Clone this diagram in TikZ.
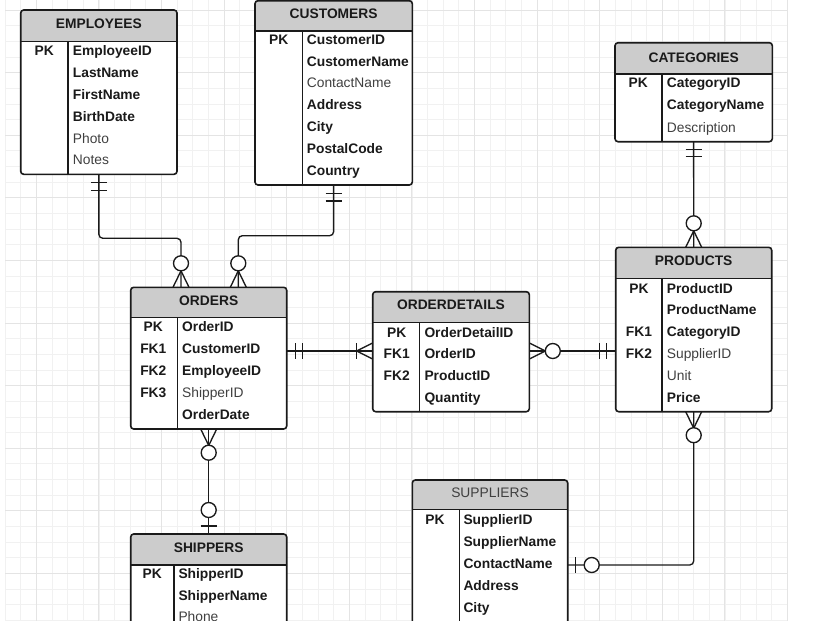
\documentclass[tikz,border=0pt]{standalone}
\usepackage{fontspec}
\setmainfont{Liberation Sans}
\usetikzlibrary{calc}
\definecolor{hdr}{HTML}{CCCCCC}
\definecolor{gridminor}{HTML}{F1F1F1}
\definecolor{gridmajor}{HTML}{E4E4E4}
\definecolor{ink}{HTML}{1A1A1A}
\definecolor{soft}{HTML}{404040}
\tikzset{
  box/.style={draw=ink, line width=1.6pt, rounded corners=3pt, inner sep=0pt, outer sep=0pt, anchor=north west},
  sepline/.style={draw=ink, line width=1.6pt},
  tt/.style={font=\fontsize{13.8}{16}\selectfont\bfseries, text=ink, inner sep=0pt, text height=9.9pt, text depth=0pt},
  keyt/.style={tt},
  fld/.style={tt, anchor=west},
  fldr/.style={fld, font=\fontsize{13.8}{16}\selectfont, text=soft},
  conn/.style={draw=ink, line width=1.35pt},
  ring/.style={draw=ink, line width=1.35pt, fill=white},
}
\newcommand\erbox[7]{%
  \begin{scope}
    \clip[rounded corners=3pt] (#2,#3) rectangle (#4,#6);
    \fill[white] (#2,#3) rectangle (#4,#6);
    \fill[hdr] (#2,#3) rectangle (#4,#5);
  \end{scope}
  \draw[sepline] (#2,#5) -- (#4,#5) (#7,#5) -- (#7,#6);
  \node[box, minimum width={#4-#2}, minimum height={#6-#3}] (#1) at (#2,#3) {};
}
\begin{document}
\begin{tikzpicture}[x=1pt,y=-1pt]
\useasboundingbox (0,0) rectangle (814,621);
\clip (0,0) rectangle (814,621);
% grid
\foreach \i in {0,...,50} {\draw[gridminor, line width=0.8pt] ({5+15.65*\i},0) -- ({5+15.65*\i},621);}
\foreach \j in {0,...,39} {\draw[gridminor, line width=0.8pt] (5,{10+15.65*\j}) -- (787.5,{10+15.65*\j});}
\foreach \i in {2,6,...,50} {\draw[gridmajor, line width=0.9pt] ({5+15.65*\i},0) -- ({5+15.65*\i},621);}
\foreach \j in {0,4,...,36} {\draw[gridmajor, line width=0.9pt] (5,{10+15.65*\j}) -- (787.5,{10+15.65*\j});}

% ===== EMPLOYEES
\erbox{emp}{20.7}{10}{177}{41.3}{174.3}{68}
\node[tt] (empT) at (98.85,23.3) {EMPLOYEES};
\node[keyt] (empK1) at (44.3,51) {PK};
\node[fld] (empF1) at (72.7,51) {EmployeeID};
\node[fld] (empF2) at (72.7,72.7) {LastName};
\node[fld] (empF3) at (72.7,94.7) {FirstName};
\node[fld] (empF4) at (72.7,116.7) {BirthDate};
\node[fldr] (empF5) at (72.7,138.3) {Photo};
\node[fldr] (empF6) at (72.7,160) {Notes};

% ===== CUSTOMERS
\erbox{cust}{255}{0.7}{412.3}{30.7}{185}{302.3}
\node[tt] (custT) at (333.65,13.3) {CUSTOMERS};
\node[keyt] (custK1) at (278.7,39.3) {PK};
\node[fld] (custF1) at (306.7,39.3) {CustomerID};
\node[fld] (custF2) at (306.7,61.3) {CustomerName};
\node[fldr] (custF3) at (306.7,83) {ContactName};
\node[fld] (custF4) at (306.7,105) {Address};
\node[fld] (custF5) at (306.7,127) {City};
\node[fld] (custF6) at (306.7,148.7) {PostalCode};
\node[fld] (custF7) at (306.7,170.7) {Country};

% ===== CATEGORIES
\erbox{cat}{615}{42.7}{772.3}{73.7}{141.7}{662}
\node[tt] (catT) at (693.65,57.3) {CATEGORIES};
\node[keyt] (catK1) at (638.3,82.7) {PK};
\node[fld] (catF1) at (666.7,82.7) {CategoryID};
\node[fld] (catF2) at (666.7,105) {CategoryName};
\node[fldr] (catF3) at (666.7,127.3) {Description};

% ===== ORDERS
\erbox{ord}{130.7}{287.3}{286.7}{317.3}{429}{177.3}
\node[tt] (ordT) at (208.7,300.7) {ORDERS};
\node[keyt] (ordK1) at (153.3,326.7) {PK};
\node[keyt] (ordK2) at (153.3,348.7) {FK1};
\node[keyt] (ordK3) at (153.3,370.7) {FK2};
\node[keyt] (ordK4) at (153.3,392.3) {FK3};
\node[fld] (ordF1) at (182,326.7) {OrderID};
\node[fld] (ordF2) at (182,348.7) {CustomerID};
\node[fld] (ordF3) at (182,370.7) {EmployeeID};
\node[fldr] (ordF4) at (182,392.3) {ShipperID};
\node[fld] (ordF5) at (182,414.3) {OrderDate};

% ===== ORDERDETAILS
\erbox{od}{372.7}{291.7}{529.3}{322.3}{411.7}{419.3}
\node[tt] (odT) at (451,305) {ORDERDETAILS};
\node[keyt] (odK1) at (396.7,332.3) {PK};
\node[keyt] (odK2) at (396.7,354) {FK1};
\node[keyt] (odK3) at (396.7,376) {FK2};
\node[fld] (odF1) at (424.3,332.3) {OrderDetailID};
\node[fld] (odF2) at (424.3,354) {OrderID};
\node[fld] (odF3) at (424.3,376) {ProductID};
\node[fld] (odF4) at (424.3,397.7) {Quantity};

% ===== PRODUCTS
\erbox{prod}{615.7}{247.3}{771.7}{278.3}{411.7}{662}
\node[tt] (prodT) at (693.7,261) {PRODUCTS};
\node[keyt] (prodK1) at (639,288.3) {PK};
\node[keyt] (prodK2) at (639,332) {FK1};
\node[keyt] (prodK3) at (639,354) {FK2};
\node[fld] (prodF1) at (666.7,288.3) {ProductID};
\node[fld] (prodF2) at (666.7,310) {ProductName};
\node[fld] (prodF3) at (666.7,332) {CategoryID};
\node[fldr] (prodF4) at (666.7,354) {SupplierID};
\node[fldr] (prodF5) at (666.7,376) {Unit};
\node[fld] (prodF6) at (666.7,397.3) {Price};

% ===== SUPPLIERS
\erbox{sup}{412.3}{480}{567.7}{509.3}{660}{459.3}
\node[tt, font=\fontsize{13.8}{16}\selectfont, text=soft] (supT) at (490,492.3) {SUPPLIERS};
\node[keyt] (supK1) at (435,519.3) {PK};
\node[fld] (supF1) at (463.3,519.3) {SupplierID};
\node[fld] (supF2) at (463.3,541.3) {SupplierName};
\node[fld] (supF3) at (463.3,563.7) {ContactName};
\node[fld] (supF4) at (463.3,585.3) {Address};
\node[fld] (supF5) at (463.3,607.3) {City};

% ===== SHIPPERS
\erbox{ship}{130.7}{534}{286.7}{565}{660}{174}
\node[tt] (shipT) at (208.7,547.7) {SHIPPERS};
\node[keyt] (shipK1) at (152.3,574) {PK};
\node[fld] (shipF1) at (178.3,574) {ShipperID};
\node[fld] (shipF2) at (178.3,595.7) {ShipperName};
\node[fldr] (shipF3) at (178.3,616.7) {Phone};

% ===== CONNECTORS
% EMPLOYEES -> ORDERS
\coordinate (a1) at ($(ord.north)+(-27.7,0)$);
\draw[conn, rounded corners=4pt] (emp.south) |- ($(a1)+(0,-49)$) -- (a1);
\draw[conn] ($(emp.south)+(-8,8)$) -- ++(16,0) ($(emp.south)+(-8,16)$) -- ++(16,0);
\draw[conn] ($(a1)+(-8,0)$) -- ($(a1)+(0,-16.5)$) -- ($(a1)+(8,0)$);
\draw[ring] ($(a1)+(0,-24)$) circle[radius=7.5];

% CUSTOMERS -> ORDERS
\coordinate (a2) at ($(ord.north)+(29.6,0)$);
\draw[conn, rounded corners=4pt] (cust.south) |- ($(a2)+(0,-51.6)$) -- (a2);
\draw[conn] ($(cust.south)+(-8,8.5)$) -- ++(16,0) ($(cust.south)+(-8,16)$) -- ++(16,0);
\draw[conn] ($(a2)+(-8,0)$) -- ($(a2)+(0,-16.5)$) -- ($(a2)+(8,0)$);
\draw[ring] ($(a2)+(0,-24)$) circle[radius=7.5];

% ORDERS -> ORDERDETAILS
\coordinate (b1) at ($(ord.north east)+(0,63.7)$);
\coordinate (b2) at (b1 -| od.west);
\draw[conn] (b1) -- (b2);
\draw[conn] ($(b1)+(9,-8)$) -- ++(0,16) ($(b1)+(16,-8)$) -- ++(0,16);
\draw[conn] ($(b2)+(-16,-8)$) -- ++(0,16);
\draw[conn] ($(b2)+(0,-8)$) -- ($(b2)+(-16,0)$) -- ($(b2)+(0,8)$);

% ORDERDETAILS -> PRODUCTS
\coordinate (c1) at (b1 -| od.east);
\coordinate (c2) at (b1 -| prod.west);
\draw[conn] (c1) -- (c2);
\draw[conn] ($(c1)+(0,-8)$) -- ($(c1)+(16,0)$) -- ($(c1)+(0,8)$);
\draw[ring] ($(c1)+(23.5,0)$) circle[radius=7.5];
\draw[conn] ($(c2)+(-16.4,-8)$) -- ++(0,16) ($(c2)+(-9.5,-8)$) -- ++(0,16);

% CATEGORIES -> PRODUCTS
\draw[conn] (cat.south) -- (prod.north);
\draw[conn] ($(cat.south)+(-8,7.5)$) -- ++(16,0) ($(cat.south)+(-8,15)$) -- ++(16,0);
\draw[conn] ($(prod.north)+(-8,0)$) -- ($(prod.north)+(0,-16.5)$) -- ($(prod.north)+(8,0)$);
\draw[ring] ($(prod.north)+(0,-24)$) circle[radius=7.5];

% PRODUCTS -> SUPPLIERS
\coordinate (d1) at ($(sup.north east)+(0,85)$);
\draw[conn, rounded corners=4pt] (prod.south) |- (d1);
\draw[conn] ($(prod.south)+(-8,0)$) -- ($(prod.south)+(0,16.5)$) -- ($(prod.south)+(8,0)$);
\draw[ring] ($(prod.south)+(0,23.5)$) circle[radius=7.5];
\draw[conn] ($(d1)+(8,-8)$) -- ++(0,16);
\draw[ring] ($(d1)+(24,0)$) circle[radius=7.5];

% ORDERS -> SHIPPERS
\draw[conn] (ord.south) -- (ord.south |- ship.north);
\draw[conn] ($(ord.south)+(-8,0)$) -- ($(ord.south)+(0,16.5)$) -- ($(ord.south)+(8,0)$);
\draw[ring] ($(ord.south)+(0,23.7)$) circle[radius=7.5];
\coordinate (e1) at (ord.south |- ship.north);
\draw[conn] ($(e1)+(-8,-8)$) -- ++(16,0);
\draw[ring] ($(e1)+(0,-24)$) circle[radius=7.5];
\end{tikzpicture}
\end{document}
